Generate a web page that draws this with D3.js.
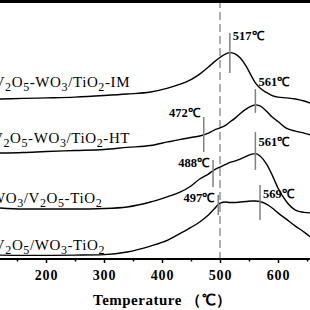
<!DOCTYPE html>
<html>
<head>
<meta charset="utf-8">
<script src="https://cdn.jsdelivr.net/npm/d3@7"></script>
<style>
  body { margin: 0; background: #fff; }
  svg { display: block; }
</style>
</head>
<body>
<div id="chart"></div>
<script>
// H2-TPR style curves, four catalysts (intensity in a.u.)
const temps = [120, 160, 200, 250, 300, 340, 380, 410, 430, 450, 465, 480, 490, 500, 510, 517,
               525, 535, 545, 555, 561, 569, 580, 590, 600, 615, 630, 645, 656];

const valsIM = [61.8, 62.0, 62.2, 62.5, 63.1, 63.7, 64.5, 66.0, 67.4, 69.3, 71.4, 74.1, 76.1, 77.8, 79.2, 79.7,
                79.3, 77.6, 74.5, 70.3, 68.0, 66.0, 64.3, 63.1, 62.5, 62.2, 61.8, 61.0, 60.2];
const valsHT = [40.9, 41.1, 41.5, 41.9, 42.3, 43.1, 43.8, 45.2, 46.1, 46.9, 47.5, 48.6, 49.8, 50.6, 51.7, 52.9,
                54.2, 56.2, 57.9, 59.1, 59.5, 59.1, 57.1, 54.8, 53.1, 50.4, 49.4, 48.6, 47.9];
const valsWV = [19.7, 19.3, 19.3, 19.3, 19.5, 20.1, 22.0, 24.1, 25.7, 28.2, 30.9, 32.8, 34.4, 35.5, 36.5, 37.3,
                37.8, 38.6, 39.6, 40.5, 40.7, 39.8, 36.7, 32.4, 27.4, 22.0, 18.9, 18.0, 17.8];
const valsVW = [1.5, 1.4, 1.4, 1.5, 1.7, 2.7, 5.0, 7.3, 9.7, 12.2, 14.3, 17.0, 19.3, 21.6, 22.0, 21.8,
                21.8, 22.0, 22.2, 22.4, 22.4, 22.2, 21.2, 19.7, 17.8, 15.3, 12.7, 10.4, 8.5];

const seriesNames = ["V_2O_5-WO_3/TiO_2-IM", "V_2O_5-WO_3/TiO_2-HT", "WO_3/V_2O_5-TiO_2", "V_2O_5/WO_3-TiO_2"];
const seriesVals = [valsIM, valsHT, valsWV, valsVW];
// label anchors: right end temperature, baseline level (a.u.)
const nameEndT = [345, 345, 297, 302];
const nameLevel = [66.4, 44.8, 21.6, 3.5];

// peak markers
const markerT = [517, 561, 472, 561, 488, 497, 569];
const markerTop = [87.3, 65.6, 54.8, 49.0, 38.2, 24.7, 28.6];
const markerBottom = [71.8, 56.4, 41.3, 34.4, 27.8, 17.0, 15.1];
const markerLabelLevel = [84.6, 66.8, 54.8, 43.6, 35.5, 22.0, 23.6];
const markerLabelSide = ["right", "right", "left", "right", "left", "left", "right"];

const xTicks = [150, 200, 250, 300, 350, 400, 450, 500, 550, 600, 650];

const width = 310, height = 310;
const axisY = 259;

const x = d3.scaleLinear().domain([200, 600]).range([46, 278]);
const y = d3.scaleLinear().domain([0, 100]).range([axisY, 0]);

const svg = d3.select("#chart").append("svg")
    .attr("width", width)
    .attr("height", height);

const serif = "'Liberation Serif', 'Times New Roman', serif";

// reference line at 500 C
svg.append("line")
    .attr("x1", x(500)).attr("x2", x(500))
    .attr("y1", 0).attr("y2", axisY)
    .attr("stroke", "#999")
    .attr("stroke-width", 1.6)
    .attr("stroke-dasharray", "8,4");

// curves
const line = d3.line()
    .x((d, i) => x(temps[i]))
    .y(d => y(d))
    .curve(d3.curveMonotoneX);

svg.append("g").selectAll("path")
    .data(seriesVals)
    .join("path")
    .attr("d", d => line(d))
    .attr("fill", "none")
    .attr("stroke", "#000")
    .attr("stroke-width", 1.4);

// series labels with subscripts
seriesNames.forEach((name, i) => {
    const t = svg.append("text")
        .attr("x", x(nameEndT[i]))
        .attr("y", y(nameLevel[i]))
        .attr("text-anchor", "end")
        .style("font-family", serif)
        .style("font-size", "15px")
        .style("letter-spacing", "0.6px");
    const parts = name.split(/_(\d)/);
    let down = false;
    parts.forEach((p, j) => {
        if (j % 2 === 1) {
            t.append("tspan").attr("dy", 4).style("font-size", "12px").text(p);
            down = true;
        } else if (p !== "") {
            t.append("tspan").attr("dy", down ? -4 : 0).text(p);
            down = false;
        }
    });
});

// peak markers
svg.append("g").selectAll("line")
    .data(markerT)
    .join("line")
    .attr("x1", d => x(d)).attr("x2", d => x(d))
    .attr("y1", (d, i) => y(markerTop[i]))
    .attr("y2", (d, i) => y(markerBottom[i]))
    .attr("stroke", "#808080")
    .attr("stroke-width", 1.5);

svg.append("g").selectAll("text")
    .data(markerT)
    .join("text")
    .attr("x", (d, i) => markerLabelSide[i] === "right" ? x(d) + 3 : x(d) - 4)
    .attr("y", (d, i) => y(markerLabelLevel[i]))
    .attr("text-anchor", (d, i) => markerLabelSide[i] === "right" ? "start" : "end")
    .style("font-family", serif)
    .style("font-weight", "bold")
    .style("font-size", "12.5px")
    .text(d => d + "℃");

// top frame
svg.append("line")
    .attr("x1", 0).attr("x2", width)
    .attr("y1", 1.5).attr("y2", 1.5)
    .attr("stroke", "#000")
    .attr("stroke-width", 3);

// bottom axis
const xAxis = d3.axisBottom(x)
    .tickValues(xTicks)
    .tickSize(4)
    .tickPadding(7)
    .tickFormat(d => d % 100 === 0 ? d : "");

const gx = svg.append("g")
    .attr("transform", `translate(0,${axisY})`)
    .call(xAxis);

gx.select(".domain").remove();
gx.selectAll(".tick line")
    .attr("stroke", "#000")
    .attr("stroke-width", 1.5)
    .attr("y2", d => d % 100 === 0 ? 4 : 2.5);
gx.selectAll(".tick text")
    .style("font-family", serif)
    .style("font-weight", "bold")
    .style("font-size", "14px")
    .style("letter-spacing", "0.8px")
    .attr("fill", "#000");

gx.append("line")
    .attr("x1", 0).attr("x2", width)
    .attr("y1", 0).attr("y2", 0)
    .attr("stroke", "#000")
    .attr("stroke-width", 2);

svg.append("text")
    .attr("x", 93)
    .attr("y", 305)
    .style("font-family", serif)
    .style("font-weight", "bold")
    .style("font-size", "15px")
    .style("letter-spacing", "0.5px")
    .text("Temperature （℃）");
</script>
</body>
</html>
